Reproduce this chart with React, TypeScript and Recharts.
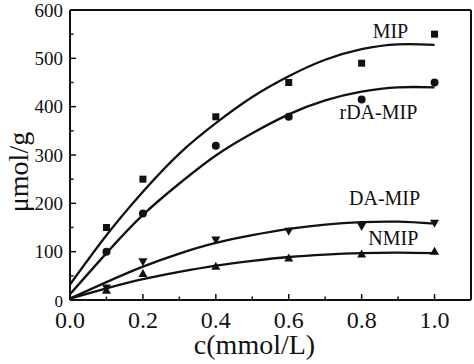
import { ComposedChart, Line, Scatter, XAxis, YAxis, ReferenceLine, ReferenceDot } from 'recharts';

// measured points
const conc = [0.1, 0.2, 0.4, 0.6, 0.8, 1.0];
const mip = [150, 250, 379, 450, 490, 550];
const rdaMip = [100, 179, 319, 379, 415, 450];
const daMip = [25, 79, 124, 142, 152, 159];
const nmip = [20, 55, 70, 87, 95, 101];

// fitted curves
const fitX = [0, 0.1, 0.2, 0.3, 0.4, 0.5, 0.6, 0.7, 0.8, 0.9, 1.0];
const mipFit = [32, 134, 224, 303, 366, 420, 463, 497, 519, 529, 528];
const rdaMipFit = [12, 97, 176, 241, 299, 345, 384, 413, 431, 440, 440];
const daMipFit = [3, 37, 69, 96, 118, 134, 147, 156, 161, 162, 158];
const nmipFit = [3, 24, 43, 58, 71, 81, 89, 94, 97, 98, 97];

const xTicks = [0, 0.1, 0.2, 0.3, 0.4, 0.5, 0.6, 0.7, 0.8, 0.9, 1.0];
const yTicks = [0, 50, 100, 150, 200, 250, 300, 350, 400, 450, 500, 550, 600];

// series label anchors (data coords)
const labelNames = ['MIP', 'rDA-MIP', 'DA-MIP', 'NMIP'];
const labelX = [0.879, 0.846, 0.863, 0.887];
const labelY = [557, 389, 211, 128];

const ink = '#111';
const serif = { fontFamily: 'Liberation Serif' };

const pts = (xs: number[], ys: number[]) => xs.map((x, i) => ({ x, y: ys[i] }));

const Square = (p: any) => <rect x={p.cx - 3.5} y={p.cy - 3.5} width={7} height={7} fill={ink} />;
const Dot = (p: any) => <circle cx={p.cx} cy={p.cy} r={4} fill={ink} />;
const TriUp = (p: any) => (
  <path d={`M${p.cx},${p.cy - 4.5}L${p.cx + 4.5},${p.cy + 3.5}L${p.cx - 4.5},${p.cy + 3.5}Z`} fill={ink} />
);
const TriDown = (p: any) => (
  <path d={`M${p.cx},${p.cy + 4.5}L${p.cx + 4.5},${p.cy - 3.5}L${p.cx - 4.5},${p.cy - 3.5}Z`} fill={ink} />
);

const XTick = ({ x, y, payload }: any) => {
  const v = payload.value;
  const major = Math.round(v * 10) % 2 === 0;
  return (
    <g>
      <line x1={x} x2={x} y1={y} y2={y - (major ? 6 : 3.5)} stroke={ink} strokeWidth={1.5} />
      {major && (
        <text x={x} y={y + 28} textAnchor="middle" fontSize={24} style={serif} fill={ink}>
          {v.toFixed(1)}
        </text>
      )}
    </g>
  );
};

const YTick = ({ x, y, payload }: any) => {
  const v = payload.value;
  const major = v % 100 === 0;
  return (
    <g>
      <line x1={x} x2={x + (major ? 6 : 3.5)} y1={y} y2={y} stroke={ink} strokeWidth={1.5} />
      {major && (
        <text x={x - 7} y={y + 6.5} textAnchor="end" fontSize={v === 0 ? 17 : 19} style={serif} fill={ink}>
          {v}
        </text>
      )}
    </g>
  );
};

const SeriesLabel = (name: string) => (props: any) => {
  const { viewBox } = props;
  const cx = viewBox.x + (viewBox.width || 0) / 2;
  const cy = viewBox.y + (viewBox.height || 0) / 2;
  return (
    <text x={cx} y={cy + 7} textAnchor="middle" fontSize={20} style={serif} fill={ink}>
      {name}
    </text>
  );
};

const XTitle = (props: any) => {
  const { viewBox } = props;
  return (
    <text x={viewBox.x + viewBox.width / 2 - 16} y={viewBox.y + 54} textAnchor="middle" fontSize={28} style={serif} fill={ink}>
      c(mmol/L)
    </text>
  );
};

const YTitle = (props: any) => {
  const { viewBox } = props;
  const cx = viewBox.x + 28;
  const cy = viewBox.y + viewBox.height / 2 + 17;
  return (
    <text x={cx} y={cy} transform={`rotate(-90 ${cx} ${cy})`} textAnchor="middle" fontSize={28} style={serif} fill={ink}>
      μmol/g
    </text>
  );
};

export default function App() {
  return (
    <div style={{ position: 'absolute', left: 0, top: 0, width: 474, height: 364, background: '#fff' }}>
      <ComposedChart width={474} height={364} margin={{ top: 10, right: 3, bottom: 0, left: 0 }}>
        <XAxis
          dataKey="x"
          type="number"
          domain={[0, 1.1]}
          ticks={xTicks}
          interval={0}
          height={64}
          tickSize={0}
          tickMargin={0}
          tickLine={false}
          tick={<XTick />}
          axisLine={{ stroke: ink, strokeWidth: 2 }}
          allowDataOverflow
          label={{ content: XTitle }}
        />
        <YAxis
          dataKey="y"
          type="number"
          domain={[0, 600]}
          ticks={yTicks}
          interval={0}
          width={70}
          tickSize={0}
          tickMargin={0}
          tickLine={false}
          tick={<YTick />}
          axisLine={{ stroke: ink, strokeWidth: 2 }}
          allowDataOverflow
          label={{ content: YTitle }}
        />
        <ReferenceLine y={600} stroke={ink} strokeWidth={2} />
        <ReferenceLine x={1.1} stroke={ink} strokeWidth={2} />

        <Line data={pts(fitX, mipFit)} dataKey="y" type="natural" stroke={ink} strokeWidth={2.3} dot={false} isAnimationActive={false} />
        <Line data={pts(fitX, rdaMipFit)} dataKey="y" type="natural" stroke={ink} strokeWidth={2.3} dot={false} isAnimationActive={false} />
        <Line data={pts(fitX, daMipFit)} dataKey="y" type="natural" stroke={ink} strokeWidth={2.3} dot={false} isAnimationActive={false} />
        <Line data={pts(fitX, nmipFit)} dataKey="y" type="natural" stroke={ink} strokeWidth={2.3} dot={false} isAnimationActive={false} />

        <Scatter data={pts(conc, mip)} shape={Square} isAnimationActive={false} />
        <Scatter data={pts(conc, rdaMip)} shape={Dot} isAnimationActive={false} />
        <Scatter data={pts(conc, daMip)} shape={TriDown} isAnimationActive={false} />
        <Scatter data={pts(conc, nmip)} shape={TriUp} isAnimationActive={false} />

        {labelNames.map((n, i) => (
          <ReferenceDot key={n} x={labelX[i]} y={labelY[i]} r={0} fill="none" stroke="none" label={SeriesLabel(n)} />
        ))}
      </ComposedChart>
    </div>
  );
}
